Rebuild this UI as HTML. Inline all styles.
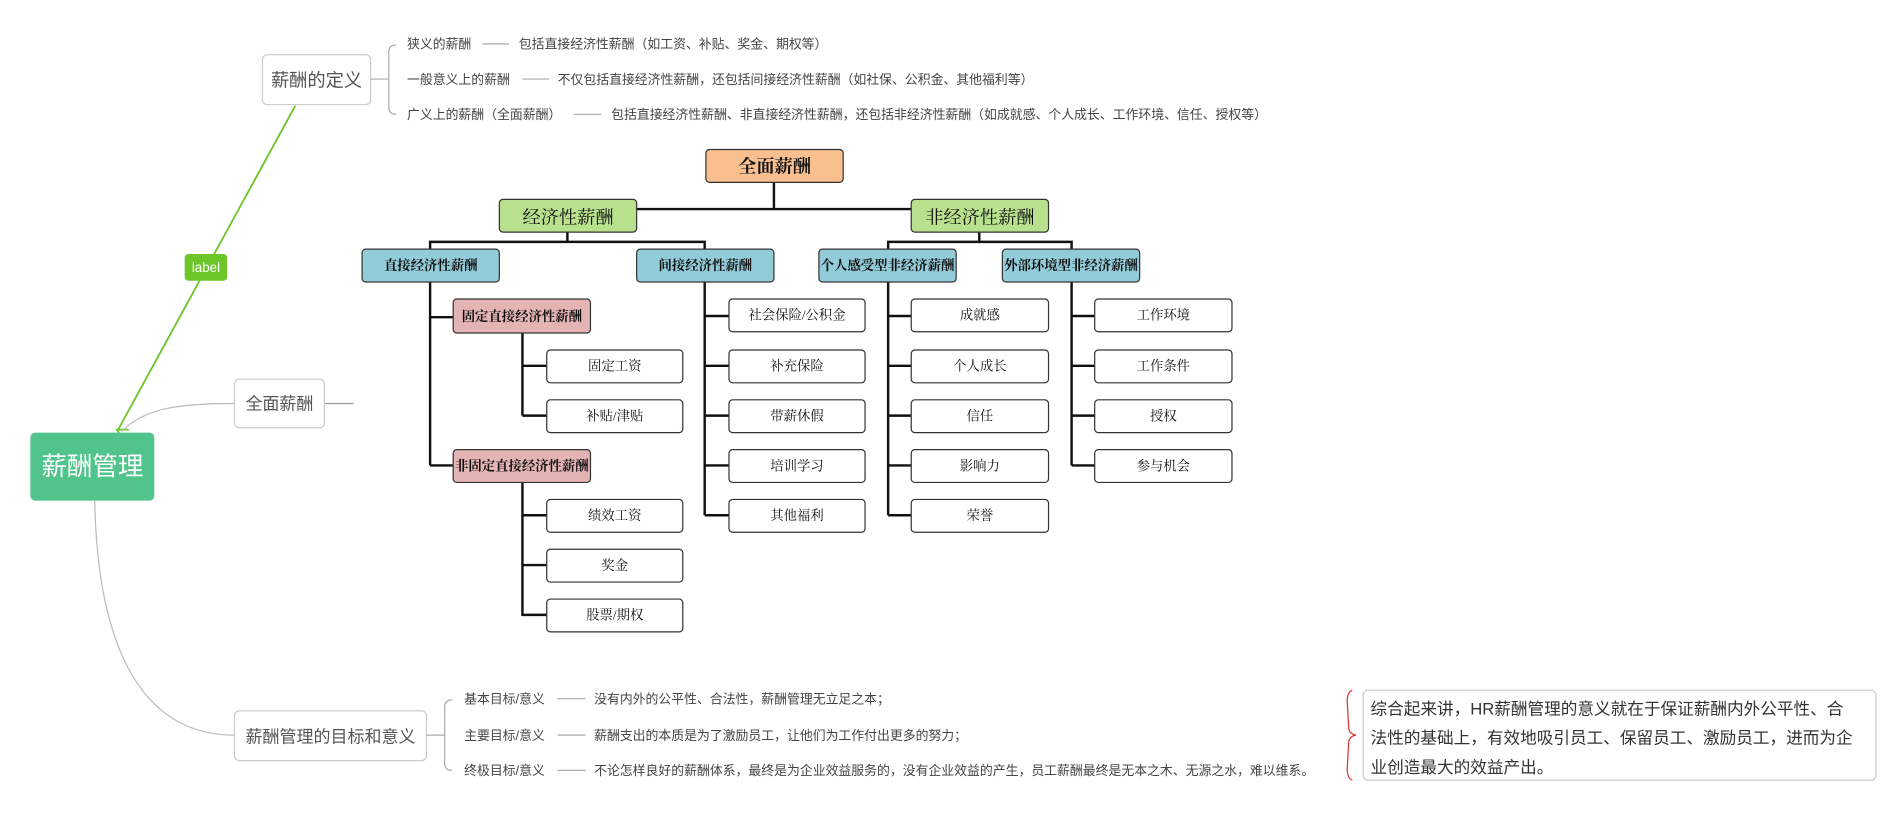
<!DOCTYPE html>
<html><head><meta charset="utf-8"><style>
html,body{margin:0;padding:0;background:#fff;}
svg{display:block;}
.s{font-family:"Liberation Sans","Noto Sans CJK SC",sans-serif;}
.f{font-family:"Liberation Serif","Noto Serif CJK SC",serif;}
</style></head><body>
<svg width="1899" height="813" viewBox="0 0 1563 669" xmlns="http://www.w3.org/2000/svg">
<defs>
<marker id="ar" markerWidth="10" markerHeight="10" refX="5" refY="8" orient="auto" markerUnits="userSpaceOnUse">
<path d="M0,0 L5,9 L10,0" fill="none" stroke="#6cc62a" stroke-width="1.5"/></marker>
</defs>
<line x1="243" y1="87" x2="97" y2="354" stroke="#6cc62a" stroke-width="1.5" marker-end="url(#ar)"/>
<path d="M100,355 C120,335 150,332 193,332" fill="none" stroke="#bbb" stroke-width="1"/>
<path d="M78,412 C80,520 110,605 193,605" fill="none" stroke="#bbb" stroke-width="1"/>
<line x1="267" y1="332" x2="291" y2="332" stroke="#999" stroke-width="1"/>
<rect x="152" y="209" width="35" height="22" rx="3" fill="#6cc62a"/>
<text x="169.5" y="224" class="s" font-size="11" fill="#fff" text-anchor="middle">label</text>
<rect x="25" y="356" width="102" height="56" rx="4" fill="#50c48a"/>
<text x="76" y="391" class="s" font-size="21" fill="#fff" text-anchor="middle">薪酬管理</text>
<rect x="216" y="45" width="89" height="41" rx="4" fill="#fff" stroke="#ccc"/>
<text x="260.5" y="71" class="s" font-size="15" fill="#555" text-anchor="middle">薪酬的定义</text>
<g stroke="#aaa" fill="none" stroke-width="1">
<line x1="305" y1="65" x2="320" y2="65"/>
<path d="M326,37 Q320,37 320,43 L320,88 Q320,94 326,94"/>
<line x1="397" y1="36" x2="419" y2="36"/>
<line x1="430" y1="65" x2="452" y2="65"/>
<line x1="472" y1="94" x2="495" y2="94"/>
</g>
<g class="s" font-size="10.6" fill="#444">
<text x="335" y="40">狭义的薪酬</text>
<text x="427" y="40">包括直接经济性薪酬（如工资、补贴、奖金、期权等）</text>
<text x="335" y="69">一般意义上的薪酬</text>
<text x="459" y="69">不仅包括直接经济性薪酬，还包括间接经济性薪酬（如社保、公积金、其他福利等）</text>
<text x="335" y="98">广义上的薪酬（全面薪酬）</text>
<text x="503" y="98">包括直接经济性薪酬、非直接经济性薪酬，还包括非经济性薪酬（如成就感、个人成长、工作环境、信任、授权等）</text>
</g>
<rect x="193" y="312" width="74" height="40" rx="4" fill="#fff" stroke="#ccc"/>
<text x="230" y="337" class="s" font-size="14" fill="#555" text-anchor="middle">全面薪酬</text>
<g stroke="#111" stroke-width="2" fill="none">
<path d="M637,150 V172 M453,164 V172 H807 V164"/>
<path d="M467,191 V199 M354,205 V199 H580 V205"/>
<path d="M806,191 V199 M731,205 V199 H882 V205"/>
<path d="M354,232 V383 M354,261 H373 M354,383 H373"/>
<path d="M430,274 V342 M430,301 H450 M430,342 H450"/>
<path d="M430,397 V507 M430,424 H450 M430,465 H450 M430,506 H450"/>
<path d="M580,232 V424 M580,260 H600 M580,301 H600 M580,342 H600 M580,383 H600 M580,424 H600"/>
<path d="M731,232 V424 M731,260 H750 M731,301 H750 M731,342 H750 M731,383 H750 M731,424 H750"/>
<path d="M882,232 V383 M882,260 H901 M882,301 H901 M882,342 H901 M882,383 H901"/>
</g>
<g stroke="#333" stroke-width="1">
<rect x="581" y="123" width="113" height="27" rx="3" fill="#f9bf8f"/>
<rect x="411" y="164" width="113" height="27" rx="3" fill="#b8e08d"/>
<rect x="750" y="164" width="113" height="27" rx="3" fill="#b8e08d"/>
<rect x="298" y="205" width="113" height="27" rx="3" fill="#93ccd9"/>
<rect x="524" y="205" width="113" height="27" rx="3" fill="#93ccd9"/>
<rect x="674" y="205" width="113" height="27" rx="3" fill="#93ccd9"/>
<rect x="825" y="205" width="113" height="27" rx="3" fill="#93ccd9"/>
<rect x="373" y="246" width="113" height="28" rx="3" fill="#e4b4b4"/>
<rect x="373" y="370" width="113" height="27" rx="3" fill="#e4b4b4"/>
</g>
<g stroke="#333" stroke-width="1" fill="#fff">
<rect x="450" y="288" width="112" height="27" rx="3"/>
<rect x="450" y="329" width="112" height="27" rx="3"/>
<rect x="450" y="411" width="112" height="27" rx="3"/>
<rect x="450" y="452" width="112" height="27" rx="3"/>
<rect x="450" y="493" width="112" height="27" rx="3"/>
<rect x="600" y="246" width="112" height="27" rx="3"/>
<rect x="600" y="288" width="112" height="27" rx="3"/>
<rect x="600" y="329" width="112" height="27" rx="3"/>
<rect x="600" y="370" width="112" height="27" rx="3"/>
<rect x="600" y="411" width="112" height="27" rx="3"/>
<rect x="750" y="246" width="113" height="27" rx="3"/>
<rect x="750" y="288" width="113" height="27" rx="3"/>
<rect x="750" y="329" width="113" height="27" rx="3"/>
<rect x="750" y="370" width="113" height="27" rx="3"/>
<rect x="750" y="411" width="113" height="27" rx="3"/>
<rect x="901" y="246" width="113" height="27" rx="3"/>
<rect x="901" y="288" width="113" height="27" rx="3"/>
<rect x="901" y="329" width="113" height="27" rx="3"/>
<rect x="901" y="370" width="113" height="27" rx="3"/>
</g>
<g class="f" fill="#111" text-anchor="middle">
<text x="637.5" y="142" font-size="15" font-weight="bold">全面薪酬</text>
<text x="467.5" y="184" font-size="15">经济性薪酬</text>
<text x="806.5" y="184" font-size="15">非经济性薪酬</text>
<g font-size="11" font-weight="bold">
<text x="354.5" y="222">直接经济性薪酬</text>
<text x="580.5" y="222">间接经济性薪酬</text>
<text x="730.5" y="222">个人感受型非经济薪酬</text>
<text x="881.5" y="222">外部环境型非经济薪酬</text>
<text x="429.5" y="264">固定直接经济性薪酬</text>
<text x="429.5" y="387">非固定直接经济性薪酬</text>
</g>
<g font-size="11">
<text x="506" y="305">固定工资</text>
<text x="506" y="346">补贴/津贴</text>
<text x="506" y="428">绩效工资</text>
<text x="506" y="469">奖金</text>
<text x="506" y="510">股票/期权</text>
<text x="656" y="263">社会保险/公积金</text>
<text x="656" y="305">补充保险</text>
<text x="656" y="346">带薪休假</text>
<text x="656" y="387">培训学习</text>
<text x="656" y="428">其他福利</text>
<text x="806.5" y="263">成就感</text>
<text x="806.5" y="305">个人成长</text>
<text x="806.5" y="346">信任</text>
<text x="806.5" y="387">影响力</text>
<text x="806.5" y="428">荣誉</text>
<text x="957.5" y="263">工作环境</text>
<text x="957.5" y="305">工作条件</text>
<text x="957.5" y="346">授权</text>
<text x="957.5" y="387">参与机会</text>
</g>
</g>
<rect x="193" y="585" width="158" height="41" rx="4" fill="#fff" stroke="#ccc"/>
<text x="272" y="611" class="s" font-size="14" fill="#555" text-anchor="middle">薪酬管理的目标和意义</text>
<g stroke="#aaa" fill="none" stroke-width="1">
<line x1="351" y1="605" x2="366" y2="605"/>
<path d="M372,576 Q366,576 366,582 L366,628 Q366,634 372,634"/>
<line x1="459" y1="575" x2="482" y2="575"/>
<line x1="459" y1="605" x2="482" y2="605"/>
<line x1="459" y1="634" x2="482" y2="634"/>
</g>
<g class="s" font-size="10.6" fill="#444">
<text x="382" y="579">基本目标/意义</text>
<text x="489" y="579">没有内外的公平性、合法性，薪酬管理无立足之本；</text>
<text x="382" y="609">主要目标/意义</text>
<text x="489" y="609">薪酬支出的本质是为了激励员工，让他们为工作付出更多的努力；</text>
<text x="382" y="638">终极目标/意义</text>
<text x="489" y="638">不论怎样良好的薪酬体系，最终是为企业效益服务的，没有企业效益的产生，员工薪酬最终是无本之木、无源之水，难以维系。</text>
</g>
<path d="M1113,568 Q1108,570 1109,580 L1110,598 Q1110,604 1116,605 Q1110,606 1110,612 L1109,630 Q1108,640 1113,642" fill="none" stroke="#d33" stroke-width="1"/>
<rect x="1122" y="568" width="422" height="74" rx="4" fill="#fff" stroke="#ccc"/>
<g class="s" font-size="13.7" fill="#333">
<text x="1128" y="588">综合起来讲，HR薪酬管理的意义就在于保证薪酬内外公平性、合</text>
<text x="1128" y="612">法性的基础上，有效地吸引员工、保留员工、激励员工，进而为企</text>
<text x="1128" y="636">业创造最大的效益产出。</text>
</g>
</svg>
</body></html>
